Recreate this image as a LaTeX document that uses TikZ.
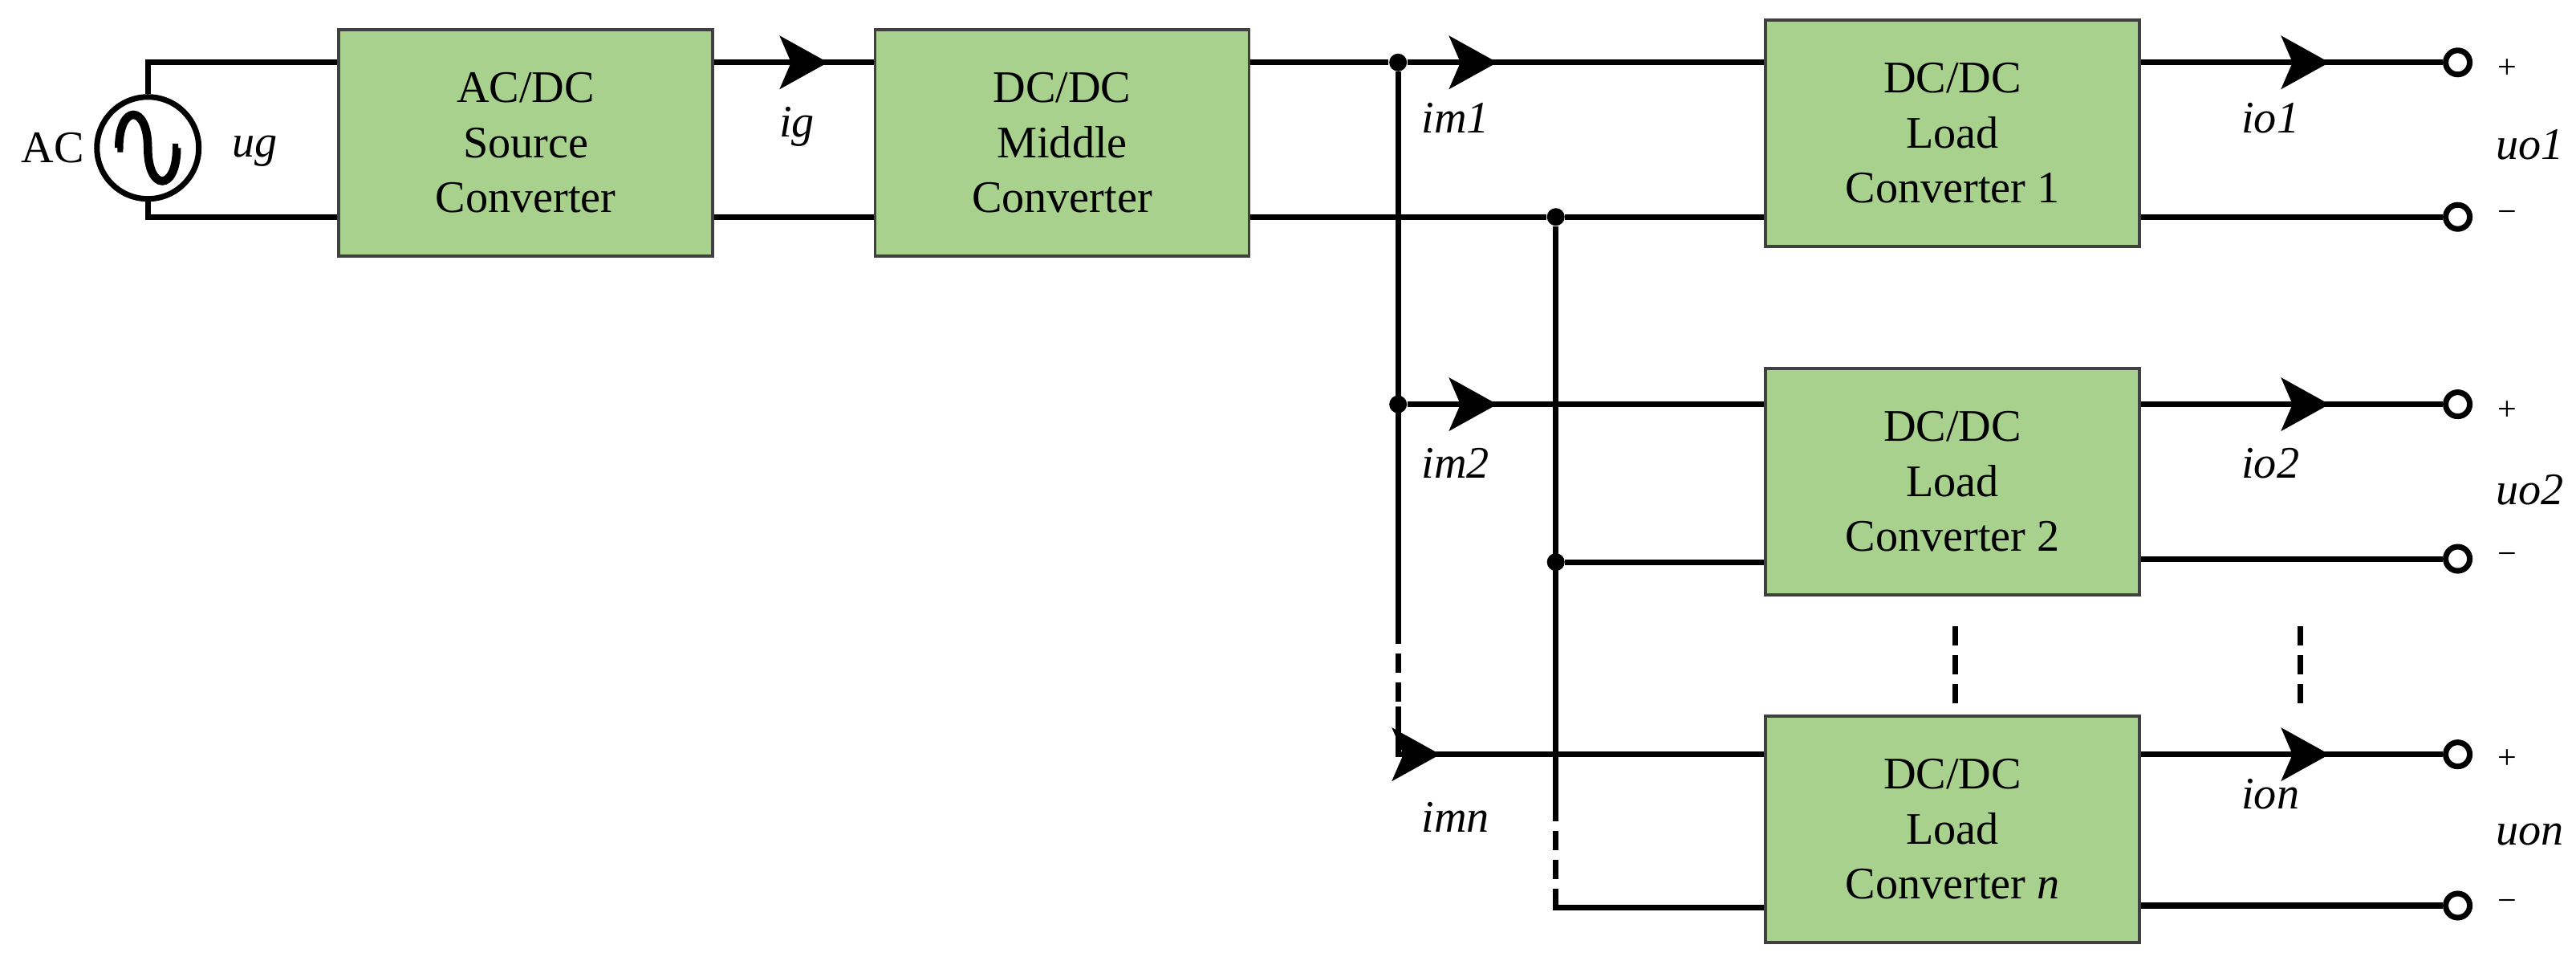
\documentclass[tikz,border=0pt]{standalone}
\usepackage{fontspec}
\setmainfont{Liberation Serif}
\usetikzlibrary{arrows.meta,decorations.markings}
\begin{document}
\begin{tikzpicture}[x=0.02047cm,y=-0.02047cm,
  wire/.style={line width=2pt},
  box/.style={draw=black!75,line width=1pt,fill={rgb,255:red,168;green,209;blue,141},minimum width=4.66cm,minimum height=2.82cm,align=center,font=\fontsize{16}{19.5}\selectfont,inner sep=0pt},
  lbl/.style={font=\fontsize{16}{19}\selectfont\itshape},
  pm/.style={font=\fontsize{12}{14}\selectfont},
  dot/.style={circle,fill=black,inner sep=0pt,minimum size=0.22cm},
  term/.style={circle,draw=black,line width=2pt,fill=white,inner sep=0pt,minimum size=0.3cm},
  dsh/.style={line width=2pt,dash pattern=on 0.24cm off 0.12cm},
  cur/.style={postaction={decorate,decoration={markings,mark=at position #1 with {\arrow{Stealth[length=0.6cm,width=0.66cm,inset=0.14cm]}}}}}]
\useasboundingbox (0,0) rectangle (1568,587);
% source
\node[circle,draw,line width=2pt,minimum size=1.27cm,inner sep=0pt] (src) at (90,90) {};
\draw[line width=3pt] ([xshift=-0.38cm]src.center) -- ([xshift=-0.36cm]src.center) .. controls ([xshift=-0.36cm,yshift=0.55cm]src.center) and ([yshift=0.55cm]src.center) .. (src.center) .. controls ([yshift=-0.55cm]src.center) and ([xshift=0.36cm,yshift=-0.55cm]src.center) .. ([xshift=0.36cm]src.center) -- ([xshift=0.38cm]src.center);
\node[font=\fontsize{16}{19}\selectfont] (ac) at (32,90) {AC};
\node[lbl] (ug) at (155,92) {ug};
% boxes
\node[box] (b1) at (320,87) {AC/DC\\Source\\Converter};
\node[box] (b2) at (646.5,87) {DC/DC\\Middle\\Converter};
\node[box] (l1) at (1188.5,81) {DC/DC\\Load\\Converter 1};
\node[box] (l2) at (1188.5,293) {DC/DC\\Load\\Converter 2};
\node[box] (ln) at (1188.5,504.5) {DC/DC\\Load\\Converter \textit{n}};
% coordinates
\coordinate (st) at (90,38); \coordinate (sb) at (90,132);
\node[dot] (j1) at (851,38) {};
\node[dot] (j2) at (947,132) {};
\node[dot] (j3) at (851,246) {};
\node[dot] (j4) at (947,342) {};
\coordinate (c1) at (851,380); \coordinate (c2) at (851,430); \coordinate (c3) at (851,459);
\coordinate (d1) at (947,488); \coordinate (d2) at (947,543); \coordinate (d3) at (947,552);
% source wires
\draw[wire] (src.north) -- (st) -- (st -| b1.west);
\draw[wire] (src.south) -- (sb) -- (sb -| b1.west);
\draw[wire,cur=1.42cm] (b1.east |- st) -- (b2.west |- st);
\draw[wire] (b1.east |- sb) -- (b2.west |- sb);
\draw[wire] (b2.east |- st) -- (j1);
\draw[wire] (b2.east |- sb) -- (j2);
\draw[wire,cur=1.12cm] (j1) -- (l1.west |- j1);
\draw[wire] (j2) -- (l1.west |- j2);
\draw[wire,cur=1.12cm] (j3) -- (l2.west |- j3);
\draw[wire] (j4) -- (l2.west |- j4);
\draw[wire] (j1) -- (c1);
\draw[dsh] (c1) -- (c2);
\draw[wire,cur=1.12cm] (c2) -- (c3) -- (ln.west |- c3);
\draw[wire] (j2) -- (d1);
\draw[dsh] (d1) -- (d2);
\draw[wire] (d2) -- (d3) -- (ln.west |- d3);
% outputs
\node[term] (t1p) at (1496,38) {};
\node[term] (t1m) at (1496,132) {};
\node[term] (t2p) at (1496,246) {};
\node[term] (t2m) at (1496,340) {};
\node[term] (tnp) at (1496,459) {};
\node[term] (tnm) at (1496,551) {};
\draw[wire,cur=2.35cm] (l1.east |- t1p) -- (t1p);
\draw[wire] (l1.east |- t1m) -- (t1m);
\draw[wire,cur=2.35cm] (l2.east |- t2p) -- (t2p);
\draw[wire] (l2.east |- t2m) -- (t2m);
\draw[wire,cur=2.35cm] (ln.east |- tnp) -- (tnp);
\draw[wire] (ln.east |- tnm) -- (tnm);
% dashed continuation marks
\coordinate (m1) at (1190,381); \coordinate (m2) at (1190,430);
\coordinate (n1) at (1400,381); \coordinate (n2) at (1400,430);
\draw[dsh] (m1) -- (m2);
\draw[dsh] (n1) -- (n2);
% labels
\node[lbl] at (485,77) {ig};
\node[lbl] at (886,72) {im1};
\node[lbl] at (886,282) {im2};
\node[lbl] at (886,497) {imn};
\node[lbl] at (1382,72) {io1};
\node[lbl] at (1382,282) {io2};
\node[lbl] at (1382,483) {ion};
\node[lbl] at (1540,88) {uo1};
\node[lbl] at (1540,298) {uo2};
\node[lbl] at (1540,508) {uon};
\node[pm] at (1526,42) {+};
\node[pm] at (1526,132) {\textminus};
\node[pm] at (1526,250) {+};
\node[pm] at (1526,340) {\textminus};
\node[pm] at (1526,462) {+};
\node[pm] at (1526,551) {\textminus};
\end{tikzpicture}
\end{document}
